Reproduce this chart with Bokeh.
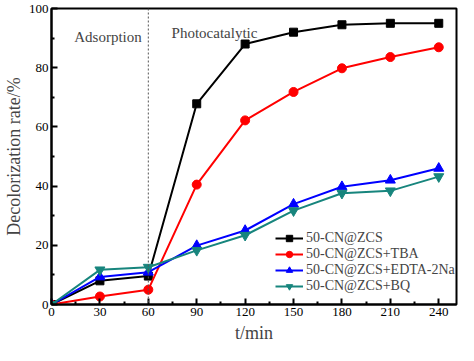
from bokeh.plotting import figure
from bokeh.models import FixedTicker, Span, Range1d, Legend, LegendItem, Label
from bokeh.embed import file_html
from bokeh.resources import INLINE

t = [0, 30, 60, 90, 120, 150, 180, 210, 240]
cn_zcs = [0, 8.0, 9.6, 67.8, 88.0, 92.0, 94.5, 95.0, 95.0]
tba = [0, 2.7, 5.0, 40.5, 62.2, 71.8, 79.8, 83.6, 86.9]
edta = [0, 9.3, 10.9, 19.9, 25.0, 33.9, 39.8, 42.0, 46.0]
bq = [0, 11.7, 12.6, 18.3, 23.4, 31.7, 37.6, 38.4, 43.2]

x_ticks = [0, 30, 60, 90, 120, 150, 180, 210, 240]
y_ticks = [0, 20, 40, 60, 80, 100]

FONT = "Liberation Serif"

p = figure(width=458, height=345, output_backend="svg", toolbar_location=None,
           x_range=Range1d(0, 251), y_range=Range1d(0, 100),
           min_border_left=40, min_border_right=2, min_border_top=8, min_border_bottom=40)
p.grid.visible = False
p.outline_line_color = "black"
p.outline_line_width = 2
p.background_fill_color = "white"

for ax in (p.xaxis[0], p.yaxis[0]):
    ax.axis_line_width = 2
    ax.major_tick_in = 6
    ax.major_tick_out = 0
    ax.minor_tick_in = 3
    ax.minor_tick_out = 0
    ax.major_tick_line_width = 2
    ax.minor_tick_line_width = 2
    ax.major_label_text_font = FONT
    ax.major_label_text_font_size = "13px"
    ax.major_label_text_color = "black"
    ax.major_label_standoff = 3
    ax.axis_label_text_font = FONT
    ax.axis_label_text_font_style = "normal"
    ax.axis_label_text_font_size = "18px"

p.xaxis[0].ticker = FixedTicker(ticks=x_ticks, minor_ticks=[15 + 30 * i for i in range(8)])
p.yaxis[0].ticker = FixedTicker(ticks=y_ticks, minor_ticks=[10, 30, 50, 70, 90])
p.xaxis[0].axis_label = "t/min"
p.yaxis[0].axis_label = "Decolorization rate/%"
p.xaxis[0].axis_label_standoff = 4
p.yaxis[0].axis_label_standoff = 2

p.add_layout(Span(location=60, dimension="height", line_color="#555555",
                  line_dash="2 2", line_width=1))

series = [
    ("50-CN@ZCS", cn_zcs, "black", "square", 8),
    ("50-CN@ZCS+TBA", tba, "#ff0000", "circle", 9),
    ("50-CN@ZCS+EDTA-2Na", edta, "#0000ff", "triangle", 10),
    ("50-CN@ZCS+BQ", bq, "#17857d", "inverted_triangle", 10),
]
items = []
for name, ys, color, marker, size in series:
    r1 = p.line(t, ys, line_color=color, line_width=2)
    r2 = p.scatter(t, ys, marker=marker, size=size, fill_color=color, line_color=color)
    items.append(LegendItem(label=name, renderers=[r1, r2]))

legend = Legend(items=items, location=(222, 8), background_fill_alpha=0,
                border_line_alpha=0, label_text_font=FONT, label_text_font_size="14px",
                glyph_width=28, glyph_height=16, label_height=16, spacing=0,
                padding=2, margin=0, label_standoff=3)
p.add_layout(legend)

p.add_layout(Label(x=35, y=90.5, text="Adsorption", text_font=FONT, text_font_size="15px",
                   text_align="center", text_baseline="middle"))
p.add_layout(Label(x=101, y=91.8, text="Photocatalytic", text_font=FONT, text_font_size="15px",
                   text_align="center", text_baseline="middle"))

open("out.html", "w").write(file_html(p, INLINE))
